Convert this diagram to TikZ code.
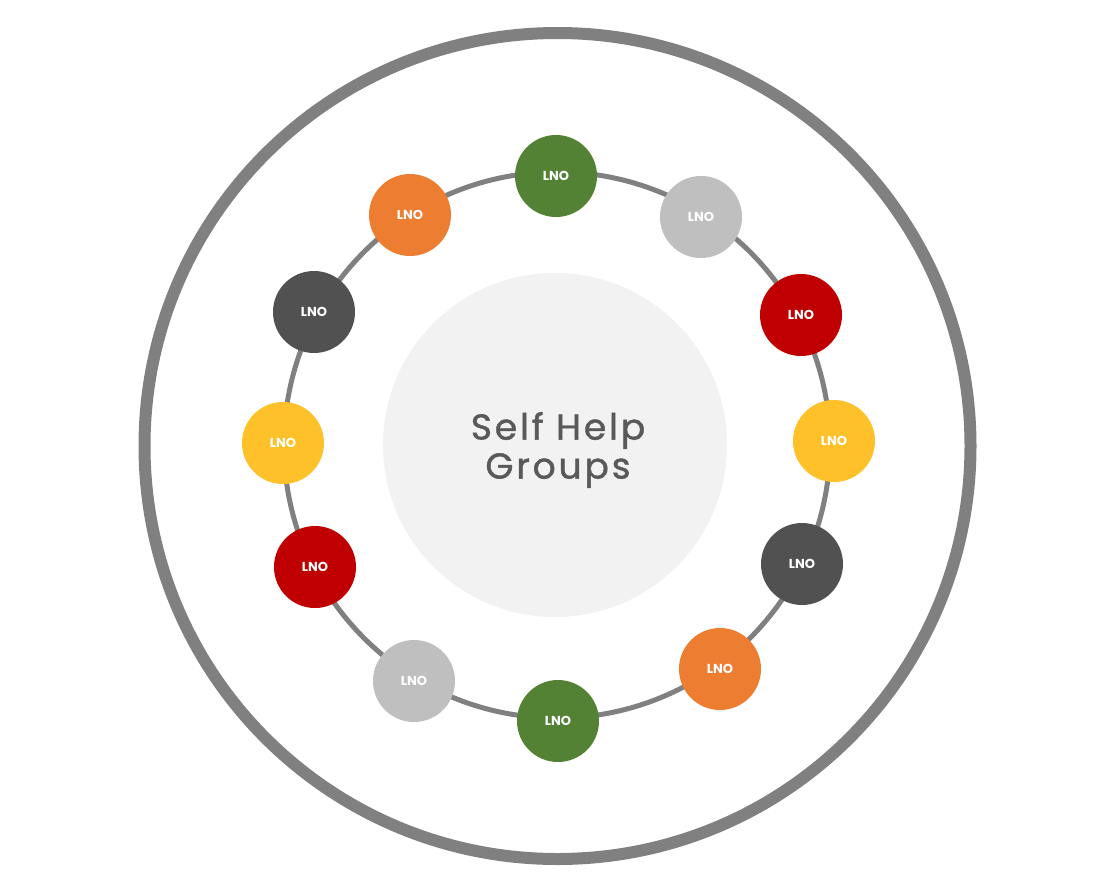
\documentclass[tikz,border=0pt]{standalone}
\usepackage{fontspec}
\setmainfont{Poppins}
\definecolor{ringgray}{HTML}{808080}
\definecolor{innerfill}{HTML}{F2F2F2}
\definecolor{txtgray}{HTML}{595959}
\definecolor{cgreen}{HTML}{548235}
\definecolor{clgray}{HTML}{BFBFBF}
\definecolor{cred}{HTML}{C00000}
\definecolor{cyellow}{HTML}{FFC12A}
\definecolor{cdgray}{HTML}{515151}
\definecolor{corange}{HTML}{ED7D31}
\begin{document}
\begin{tikzpicture}[x=1pt,y=-1pt,
  lno/.style={circle,minimum size=82pt,inner sep=0pt,text=white,
    font=\fontsize{13}{13}\selectfont\bfseries},
  ring/.style={draw=ringgray}]
\useasboundingbox (0,0) rectangle (1102,886);
\fill[white] (0,0) rectangle (1102,886);
\node[circle,ring,line width=12pt,minimum size=826pt,inner sep=0pt] (outer) at (557.5,446) {};
\node[circle,ring,line width=5pt,minimum size=546pt,inner sep=0pt] (mid) at (557,445) {};
\node[circle,fill=innerfill,minimum size=344pt,inner sep=0pt] (core) at (555,445) {};
\node[align=center,text=txtgray,
  font=\fontsize{36}{39}\selectfont\addfontfeatures{LetterSpace=8,FakeBold=1.2}] (coretext) at (558,450) {Self Help\\Groups};
\node[lno,fill=cgreen] (n1) at (556,176) {LNO};
\node[lno,fill=clgray] (n2) at (701,217) {LNO};
\node[lno,fill=cred] (n3) at (801,315) {LNO};
\node[lno,fill=cyellow] (n4) at (834,441) {LNO};
\node[lno,fill=cdgray] (n5) at (802,564) {LNO};
\node[lno,fill=corange] (n6) at (720,669) {LNO};
\node[lno,fill=cgreen] (n7) at (558,721) {LNO};
\node[lno,fill=clgray] (n8) at (414,681) {LNO};
\node[lno,fill=cred] (n9) at (315,567) {LNO};
\node[lno,fill=cyellow] (n10) at (283,443) {LNO};
\node[lno,fill=cdgray] (n11) at (314,312) {LNO};
\node[lno,fill=corange] (n12) at (410,215) {LNO};
\end{tikzpicture}
\end{document}
